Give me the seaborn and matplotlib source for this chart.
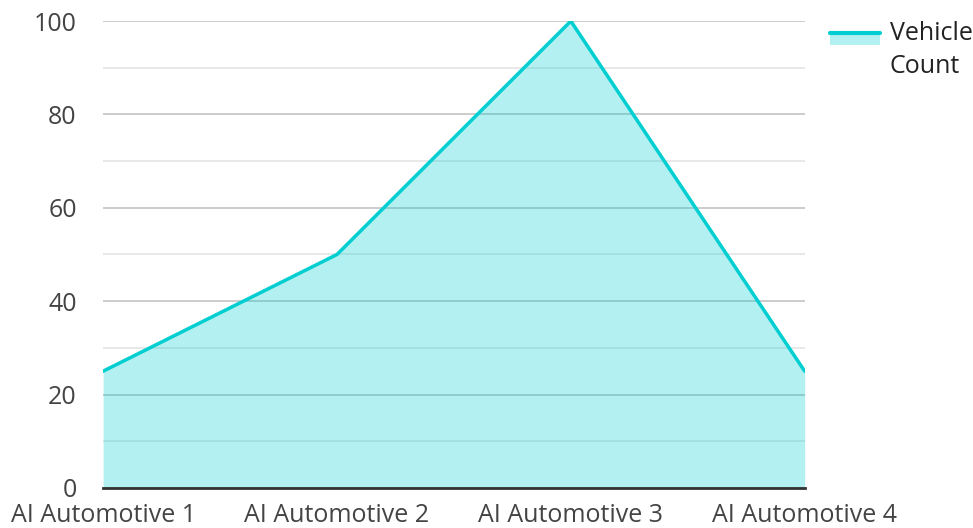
import matplotlib.pyplot as plt
import pandas as pd
import seaborn as sns
from matplotlib.patches import Rectangle
from matplotlib.lines import Line2D
from matplotlib.legend_handler import HandlerBase

# Dados
companies = ['AI Automotive 1', 'AI Automotive 2', 'AI Automotive 3', 'AI Automotive 4']
vehicle_count = [25, 50, 100, 25]

df = pd.DataFrame({'Company': companies, 'Vehicle Count': vehicle_count})
df['pos'] = range(len(df))

sns.set_style('white')
plt.rcParams['font.family'] = ['Open Sans', 'DejaVu Sans']

line_color = '#00CED1'


# legenda: linha por cima do preenchimento, alinhada com a primeira linha do texto
class AreaHandler(HandlerBase):
    def create_artists(self, legend, orig_handle, xdescent, ydescent, width, height, fontsize, trans):
        top = height * 1.55
        bottom = height * 0.84
        rect = Rectangle((-xdescent, bottom), width, top - bottom,
                         facecolor=line_color, alpha=0.3, edgecolor='none', transform=trans)
        line = Line2D([-xdescent, -xdescent + width], [top, top], color=line_color,
                      linewidth=3, transform=trans)
        return [rect, line]


fig = plt.figure(figsize=(9.73, 5.28), dpi=100)
ax = fig.add_axes([0.106, 0.076, 0.721, 0.884])

ax.fill_between(df['pos'], df['Vehicle Count'], 0, color=line_color, alpha=0.3, linewidth=0, zorder=2)
sns.lineplot(x='pos', y='Vehicle Count', data=df, ax=ax, color=line_color, linewidth=2.5, zorder=3)

ax.set_xlim(0, 3)
ax.set_ylim(0, 100)
ax.set_yticks(range(0, 101, 20))
ax.set_yticks(range(10, 100, 20), minor=True)
ax.set_xticks(df['pos'])
ax.set_xticklabels(companies)
ax.set_axisbelow(True)
ax.grid(axis='y', which='major', color='#c8c8c8', linewidth=1.3)
ax.grid(axis='y', which='minor', color='#e6e6e6', linewidth=1.3)

for s in ['top', 'right', 'left']:
    ax.spines[s].set_visible(False)
ax.spines['bottom'].set_color('#333333')
ax.spines['bottom'].set_linewidth(2)
ax.spines['bottom'].set_zorder(4)

ax.tick_params(axis='both', which='both', length=0, labelsize=18, labelcolor='#444444')
ax.tick_params(axis='y', pad=19)
ax.tick_params(axis='x', pad=11)
ax.set_xlabel('')
ax.set_ylabel('')

leg = fig.legend([object()], ['Vehicle\nCount'], loc='upper left', bbox_to_anchor=(0.8295, 1.003),
                 frameon=False, fontsize=18, handlelength=2.0, handletextpad=0.4,
                 handler_map={object: AreaHandler()})
for t in leg.get_texts():
    t.set_color('#222222')
    t.set_linespacing(1.45)

plt.savefig('out.png', dpi=100)
